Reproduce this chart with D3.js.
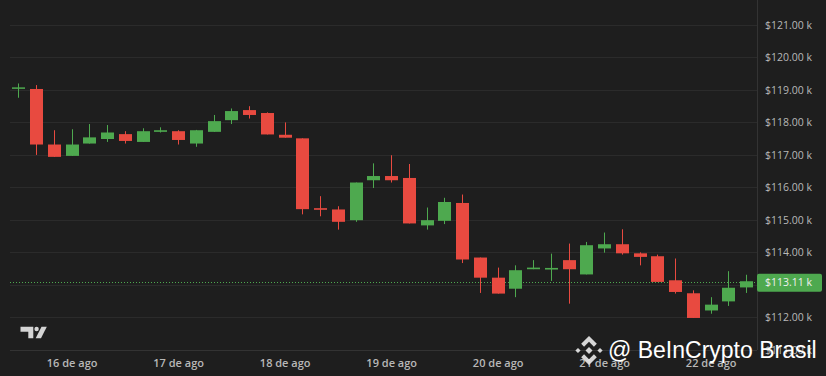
<!DOCTYPE html>
<html>
<head>
<meta charset="utf-8">
<script src="https://cdn.jsdelivr.net/npm/d3@7"></script>
<style>
  html, body { margin: 0; padding: 0; background: #1e1e1e; }
  svg { display: block; }
</style>
</head>
<body>
<svg id="chart" width="826" height="376"></svg>
<script>
// ---- DATA (4-hour BTC/USD candles, values in thousands of USD) ----
const times = [
  "2025-08-15T12:00","2025-08-15T16:00","2025-08-15T20:00",
  "2025-08-16T00:00","2025-08-16T04:00","2025-08-16T08:00","2025-08-16T12:00","2025-08-16T16:00","2025-08-16T20:00",
  "2025-08-17T00:00","2025-08-17T04:00","2025-08-17T08:00","2025-08-17T12:00","2025-08-17T16:00","2025-08-17T20:00",
  "2025-08-18T00:00","2025-08-18T04:00","2025-08-18T08:00","2025-08-18T12:00","2025-08-18T16:00","2025-08-18T20:00",
  "2025-08-19T00:00","2025-08-19T04:00","2025-08-19T08:00","2025-08-19T12:00","2025-08-19T16:00","2025-08-19T20:00",
  "2025-08-20T00:00","2025-08-20T04:00","2025-08-20T08:00","2025-08-20T12:00","2025-08-20T16:00","2025-08-20T20:00",
  "2025-08-21T00:00","2025-08-21T04:00","2025-08-21T08:00","2025-08-21T12:00","2025-08-21T16:00","2025-08-21T20:00",
  "2025-08-22T00:00","2025-08-22T04:00","2025-08-22T08:00"
];
const open  = [119.06,119.03,117.32,116.97,117.35,117.49,117.64,117.40,117.71,117.73,117.35,117.71,118.07,118.38,118.29,117.62,117.51,115.36,115.32,114.99,116.22,116.35,116.29,114.83,114.97,115.52,113.84,113.22,112.88,113.48,113.47,113.76,113.32,114.12,114.25,113.97,113.88,113.14,112.74,112.21,112.49,112.92];
const high  = [119.20,119.15,117.76,117.79,117.95,117.92,117.73,117.82,117.85,117.76,117.77,118.23,118.43,118.50,118.31,118.00,117.51,115.73,115.42,116.15,116.74,116.99,116.72,115.38,115.68,115.78,113.84,113.53,113.60,113.76,113.96,114.27,114.32,114.61,114.71,114.00,113.93,113.81,112.83,112.62,113.42,113.31];
const low   = [118.76,117.00,116.94,116.97,117.35,117.40,117.35,117.40,117.69,117.32,117.25,117.71,117.95,118.12,117.63,117.53,115.17,115.11,114.70,114.94,115.98,116.15,114.89,114.70,114.87,113.67,112.75,112.73,112.62,113.48,113.12,112.42,113.32,113.99,113.93,113.60,113.09,112.73,111.98,112.11,112.35,112.75];
const close = [119.08,117.32,116.94,117.32,117.54,117.69,117.43,117.73,117.76,117.46,117.76,118.04,118.35,118.23,117.63,117.53,115.33,115.31,114.94,116.15,116.35,116.22,114.89,114.99,115.55,113.78,113.22,112.73,113.45,113.53,113.52,113.48,114.22,114.25,113.97,113.86,113.09,112.78,111.98,112.39,112.91,113.11];
const gridTicks = [112,113,114,115,116,117,118,119,120,121];
const priceTicks = [111,112,114,115,116,117,118,119,120,121];
const dateTicks = ["2025-08-16","2025-08-17","2025-08-18","2025-08-19","2025-08-20","2025-08-21","2025-08-22"];
const dateLabels = ["16 de ago","17 de ago","18 de ago","19 de ago","20 de ago","21 de ago","22 de ago"];
const lastPrice = 113.11;
const lastLabel = "$113.11 k";
const watermark = "@ BeInCrypto Brasil";

// ---- STYLE ----
const BG = "#1e1e1e", GRID = "#2b2b2b", AXIS = "#333333", TXT = "#b8b8b8";
const UP = "#4ea94f", DOWN = "#e84a40";

const svg = d3.select("#chart");
const parseT = d3.timeParse("%Y-%m-%dT%H:%M");
const parseD = d3.timeParse("%Y-%m-%d");
const T = times.map(parseT);

const plotL = 10, plotR = 757, plotB = 350;

const x = d3.scaleTime()
  .domain([T[0], T[T.length - 1]])
  .range([18.4, 746.2]);
const y = d3.scaleLinear().domain([112, 121]).range([317.3, 25]);

svg.append("rect").attr("width", 826).attr("height", 376).attr("fill", BG);

// gridlines
svg.append("g").selectAll("line").data(gridTicks).join("line")
  .attr("x1", plotL).attr("x2", plotR)
  .attr("y1", d => Math.round(y(d)) + 0.5).attr("y2", d => Math.round(y(d)) + 0.5)
  .attr("stroke", GRID).attr("stroke-width", 1);

// axis frame lines
svg.append("line").attr("x1", plotL).attr("x2", plotR).attr("y1", plotB + 0.5).attr("y2", plotB + 0.5)
  .attr("stroke", AXIS);
svg.append("line").attr("x1", plotR + 0.5).attr("x2", plotR + 0.5).attr("y1", 0).attr("y2", plotB)
  .attr("stroke", AXIS);

// last price dotted line
svg.append("line").attr("x1", plotL).attr("x2", plotR)
  .attr("y1", Math.round(y(lastPrice)) + 1.5).attr("y2", Math.round(y(lastPrice)) + 1.5)
  .attr("stroke", UP).attr("stroke-width", 1).attr("stroke-dasharray", "1,2");

// candles
const idx = d3.range(T.length);
const bw = 13;
const cg = svg.append("g");
cg.selectAll("line.wick").data(idx).join("line")
  .attr("class", "wick")
  .attr("x1", i => Math.round(x(T[i])) + 0.5).attr("x2", i => Math.round(x(T[i])) + 0.5)
  .attr("y1", i => y(high[i])).attr("y2", i => y(low[i]))
  .attr("stroke", i => close[i] >= open[i] ? UP : DOWN).attr("stroke-width", 1);
cg.selectAll("rect.body").data(idx).join("rect")
  .attr("class", "body")
  .attr("x", i => Math.round(x(T[i])) + 0.5 - bw / 2)
  .attr("width", bw)
  .attr("y", i => y(Math.max(open[i], close[i])))
  .attr("height", i => Math.max(1.5, Math.abs(y(open[i]) - y(close[i]))))
  .attr("fill", i => close[i] >= open[i] ? UP : DOWN);

// price axis (right)
const yAxis = d3.axisRight(y).tickValues(priceTicks)
  .tickFormat(d => "$" + d.toFixed(2) + " k").tickSize(0).tickPadding(0);
const ya = svg.append("g").attr("transform", `translate(765,0)`).call(yAxis);
ya.select(".domain").remove();
ya.selectAll("text").attr("fill", TXT)
  .style("font-family", "'Open Sans', 'Noto Sans', sans-serif").style("font-size", "10.5px");

// last price label
const ly = y(lastPrice) + 1.5;
svg.append("rect").attr("x", 757).attr("y", ly - 9).attr("width", 65).attr("height", 18)
  .attr("rx", 2).attr("fill", UP);
svg.append("text").attr("x", 765).attr("y", ly).attr("dy", "0.35em").text(lastLabel)
  .attr("fill", "#f0f0f0")
  .style("font-family", "'Open Sans', 'Noto Sans', sans-serif").style("font-size", "10.5px");

// date axis (bottom)
const xAxis = d3.axisBottom(x).tickValues(dateTicks.map(parseD))
  .tickFormat((d, i) => dateLabels[i]).tickSize(0).tickPadding(0);
const xa = svg.append("g").attr("transform", `translate(0,359)`).call(xAxis);
xa.select(".domain").remove();
xa.selectAll("text").attr("fill", TXT)
  .style("font-family", "'Open Sans', 'Noto Sans', sans-serif").style("font-size", "11px")
  .style("font-weight", "600");

// TradingView logo
const tv = svg.append("g").attr("fill", "#d4d4d4");
tv.append("path").attr("d", "M20.5,326.7 H33.3 V338.3 H28.3 V331.7 H20.5 Z");
tv.append("circle").attr("cx", 36.6).attr("cy", 329).attr("r", 2.2);
tv.append("path").attr("d", "M41.5,326.7 H46.8 L41,338.3 H35.7 Z");

// watermark: diamond logo + text
const wm = svg.append("g").attr("transform", "translate(589,350.5) scale(29)").attr("fill", "#e6e6e6").attr("opacity", 0.92);
wm.append("path").attr("d", "M0,-0.5 L0.27,-0.23 L0.17,-0.13 L0,-0.3 L-0.17,-0.13 L-0.27,-0.23 Z");
wm.append("path").attr("d", "M0,0.5 L0.27,0.23 L0.17,0.13 L0,0.3 L-0.17,0.13 L-0.27,0.23 Z");
wm.append("path").attr("d", "M0,-0.12 L0.12,0 L0,0.12 L-0.12,0 Z");
wm.append("path").attr("d", "M-0.38,-0.09 L-0.29,0 L-0.38,0.09 L-0.47,0 Z");
wm.append("path").attr("d", "M0.38,-0.09 L0.47,0 L0.38,0.09 L0.29,0 Z");

svg.append("text").attr("x", 608).attr("y", 357.5).text(watermark)
  .attr("fill", "#ffffff")
  .style("font-family", "'Liberation Sans', Arial, sans-serif").style("font-size", "23px");
</script>
</body>
</html>
